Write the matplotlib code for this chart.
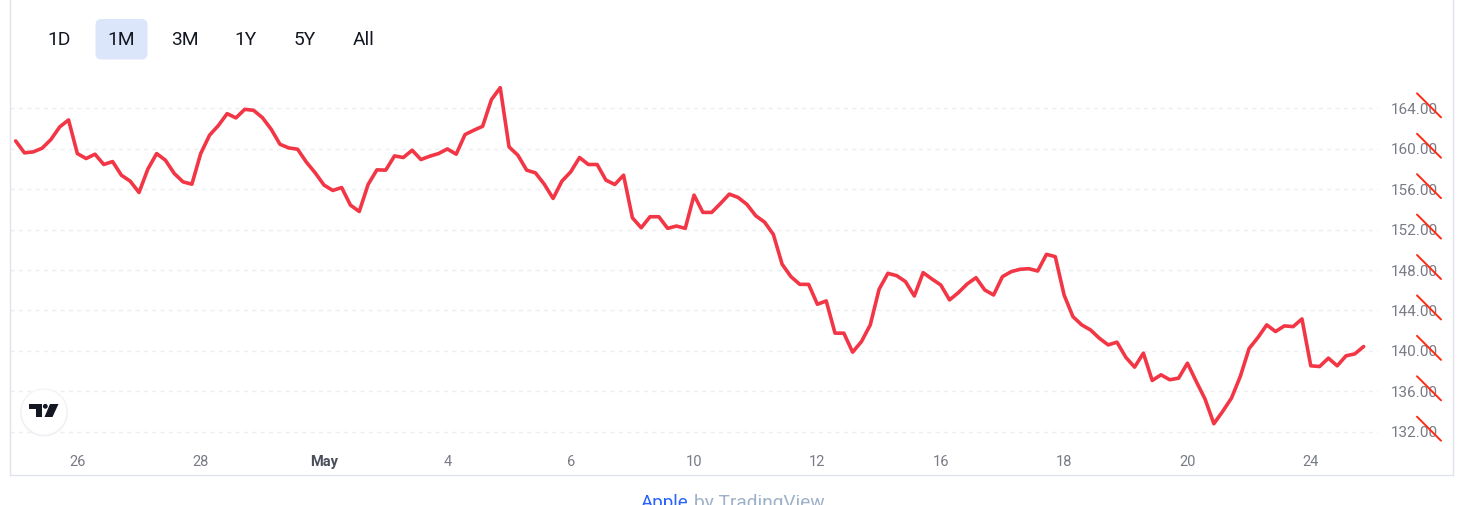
import numpy as np
import matplotlib
matplotlib.use("Agg")
import matplotlib.pyplot as plt
from matplotlib.lines import Line2D
from matplotlib.patches import Circle, Polygon, FancyBboxPatch
from matplotlib.transforms import IdentityTransform

# hourly closes (7 bars per trading day)
prices = [
    160.77, 159.59, 159.69, 160.05, 160.91, 162.16, 162.85, 159.52, 159.03, 159.46,
    158.44, 158.73, 157.38, 156.79, 155.67, 157.98, 159.52, 158.86, 157.55, 156.72,
    156.49, 159.52, 161.33, 162.29, 163.47, 163.05, 163.90, 163.80, 163.08, 161.93,
    160.44, 160.08, 159.95, 158.67, 157.61, 156.40, 155.87, 156.16, 154.42, 153.79,
    156.46, 157.91, 157.88, 159.29, 159.13, 159.85, 158.93, 159.26, 159.52, 159.98,
    159.46, 161.40, 161.83, 162.22, 164.86, 166.04,
    160.18, 159.36, 157.88, 157.61, 156.49, 155.08, 156.79, 157.71, 159.13, 158.44,
    158.44, 156.89, 156.46, 157.38, 153.17, 152.18, 153.27, 153.27, 152.12, 152.35,
    152.12, 155.41, 153.70, 153.70, 154.58, 155.51, 155.18, 154.49, 153.37, 152.74,
    151.52, 148.56, 147.34, 146.58, 146.58, 144.61, 144.94, 141.75, 141.75, 139.87,
    140.92, 142.57, 146.09, 147.67, 147.44, 146.85, 145.43, 147.74, 147.11, 146.52,
    145.04, 145.76, 146.62, 147.24,
    146.02, 145.53, 147.34, 147.84, 148.07, 148.13, 147.90, 149.55, 149.32, 145.53,
    143.39, 142.57, 142.07, 141.25, 140.59, 140.86, 139.37, 138.39, 139.77, 137.07,
    137.63, 137.14, 137.30, 138.78, 136.97, 135.23, 132.79, 134.01, 135.33, 137.47,
    140.23, 141.32, 142.57, 141.91, 142.47, 142.40, 143.16, 138.52, 138.45, 139.28,
    138.52, 139.51, 139.70, 140.43,
]
tick_idx = [7, 21, 35, 49, 63, 77, 91, 105, 119, 133, 147]
tick_labels = ["26", "28", "May", "4", "6", "10", "12", "16", "18", "20", "24"]
price_ticks = [132, 136, 140, 144, 148, 152, 156, 160, 164]
ranges = ["1D", "1M", "3M", "1Y", "5Y", "All"]
active_range = "1M"

W, H = 1468, 505
plt.rcParams['font.family'] = ['Roboto', 'DejaVu Sans']

fig = plt.figure(figsize=(W / 100, H / 100), dpi=100)
fig.patch.set_facecolor("white")


def px(x, y):
    # screen pixel (top-left origin) -> display coords
    return (x, H - y)


ax = fig.add_axes([10 / W, 1 - 450 / H, 1368 / W, 380 / H])
ax.set_facecolor("none")
x = np.arange(len(prices))
ax.plot(x, prices, color="#F23645", lw=2.6, solid_joinstyle="round", solid_capstyle="round")

ax.set_xlim(-0.644, 154.63)
ax.set_ylim(130.19, 167.79)
for s in ax.spines.values():
    s.set_visible(False)

ax.set_xticks(tick_idx)
ax.set_xticklabels(tick_labels)
for lab in ax.get_xticklabels():
    if lab.get_text() == "May":
        lab.set_color("#4a4e5a")
        lab.set_fontweight("bold")
    else:
        lab.set_color("#787b86")
ax.tick_params(axis="x", length=0, pad=3.5, labelsize=10.5)

ax.yaxis.tick_right()
ax.set_yticks(price_ticks)
ax.set_yticklabels([f"{v:.2f}" for v in price_ticks])
ax.tick_params(axis="y", length=0, pad=9.4, labelsize=11, labelcolor="#787b86")
ax.grid(axis="y", color="#eceef3", lw=1, ls=(0, (3, 3)))
ax.grid(axis="x", visible=False)

# frame around the widget
frame = "#e0e3eb"
fig.add_artist(Line2D([10, 10], [H, H - 475], color=frame, lw=1, transform=IdentityTransform()))
fig.add_artist(Line2D([1453, 1453], [H, H - 475], color=frame, lw=1, transform=IdentityTransform()))
fig.add_artist(Line2D([10, 1453], [H - 475, H - 475], color=frame, lw=1, transform=IdentityTransform()))

# red strikes over the price labels
for v in price_ticks:
    yd = ax.transData.transform((0, v))[1]
    fig.add_artist(Line2D([1417, 1441], [yd + 15, yd - 9], color="#ff2a12", lw=1.4,
                          solid_capstyle="round", transform=IdentityTransform()))

# range buttons
btn_x = [59, 121, 185, 246, 305, 364]
for name, bx in zip(ranges, btn_x):
    if name == active_range:
        fig.add_artist(FancyBboxPatch(px(95.5, 59.5), 52, 40.5,
                                      boxstyle="round,pad=0,rounding_size=6",
                                      fc="#dce6fb", ec="none", transform=IdentityTransform()))
    fig.text(bx / W, 1 - 40 / H, name, ha="center", va="center", fontsize=13.8, color="#131722")

# TradingView badge
fig.add_artist(Circle(px(44, 412.5), 24, fc="#f0f1f4", ec="none", transform=IdentityTransform()))
fig.add_artist(Circle(px(44, 412), 22.5, fc="white", ec="none", transform=IdentityTransform()))
logo = "#131722"
fig.add_artist(Polygon([px(28.5, 404), px(41.5, 404), px(41.5, 417), px(36, 417), px(36, 409), px(28.5, 409)],
                       closed=True, fc=logo, ec="none", transform=IdentityTransform()))
fig.add_artist(Circle(px(45.3, 406.3), 2.4, fc=logo, ec="none", transform=IdentityTransform()))
fig.add_artist(Polygon([px(50, 404), px(58.5, 404), px(52.5, 417), px(44.5, 417)],
                       closed=True, fc=logo, ec="none", transform=IdentityTransform()))

# attribution, cut by the bottom edge as in the widget
fig.text(688 / W, 1 - 494 / H, "Apple", ha="right", va="top", fontsize=13.5, color="#2962ff")
fig.text(694 / W, 1 - 494 / H, "by TradingView", ha="left", va="top", fontsize=13.8, color="#9db1c8")

fig.savefig("out.png", dpi=100, facecolor="white")
